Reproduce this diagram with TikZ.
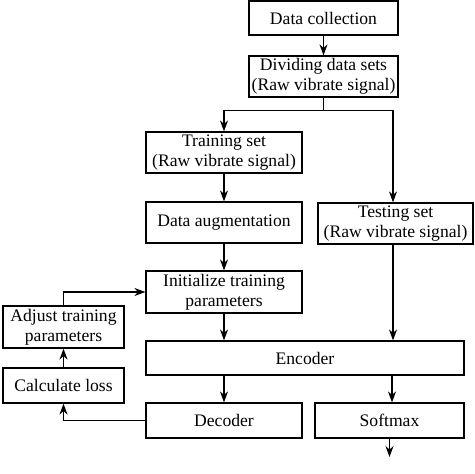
\documentclass[tikz,border=0pt]{standalone}
\usepackage{fontspec}
\setmainfont{Liberation Serif}
\usetikzlibrary{arrows.meta}

\begin{document}
\begin{tikzpicture}[x=0.5pt,y=-0.5pt,line width=0.6pt,>={Stealth[length=5.5pt,width=4pt]},
  box/.style={draw,rectangle,align=center,inner sep=0pt,font=\fontsize{8.8}{10}\selectfont}]
  \useasboundingbox (0,0) rectangle (474,474);
  \node[box,minimum width=74.5pt,minimum height=17pt] (collect) at (323.5,18) {Data collection};
  \node[box,minimum width=74.5pt,minimum height=20.5pt] (divide) at (323.5,76.5) {Dividing data sets\\(Raw vibrate signal)};
  \node[box,minimum width=78pt,minimum height=20.5pt] (train) at (224,152.5) {Training set\\(Raw vibrate signal)};
  \node[box,minimum width=78pt,minimum height=20.5pt] (augment) at (224,222.5) {Data augmentation};
  \node[box,minimum width=77.5pt,minimum height=20.5pt] (test) at (395.5,223.5) {Testing set\\(Raw vibrate signal)};
  \node[box,minimum width=78pt,minimum height=21pt] (init) at (224,292) {Initialize training\\parameters};
  \node[box,minimum width=60.5pt,minimum height=21pt] (adjust) at (63.5,327) {Adjust training\\parameters};
  \node[box,minimum width=60.5pt,minimum height=17.5pt] (loss) at (63.5,385.5) {Calculate loss};
  \node[box,minimum width=159pt,minimum height=17pt] (encoder) at (305,358) {Encoder};
  \node[box,minimum width=78pt,minimum height=17.5pt] (decoder) at (224,420.5) {Decoder};
  \node[box,minimum width=74.5pt,minimum height=17.5pt] (softmax) at (389.5,420.5) {Softmax};
  \coordinate (out) at (389.5,457);
  \draw[->] (collect) -- (divide);
  \draw[->] (divide.south) -- ++(0,13) -| (train.north);
  \draw[->] (divide.south) -- ++(0,13) -| ([xshift=-1.25pt]test.north);
  \draw[->] (train) -- (augment);
  \draw[->] (augment) -- (init);
  \draw[->] (init) -- (init.south |- encoder.north);
  \draw[->] ([xshift=-1.25pt]test.south) -- ([xshift=-1.25pt]test.south |- encoder.north);
  \draw[->] (decoder.north |- encoder.south) -- (decoder);
  \draw[->] ([xshift=1.25pt]softmax.north |- encoder.south) -- ([xshift=1.25pt]softmax.north);
  \draw[->] (softmax) -- (out);
  \draw[->] (decoder.west) -| (loss.south);
  \draw[->] (loss) -- (adjust);
  \draw[->] (adjust.north) |- (init.west);
\end{tikzpicture}
\end{document}
